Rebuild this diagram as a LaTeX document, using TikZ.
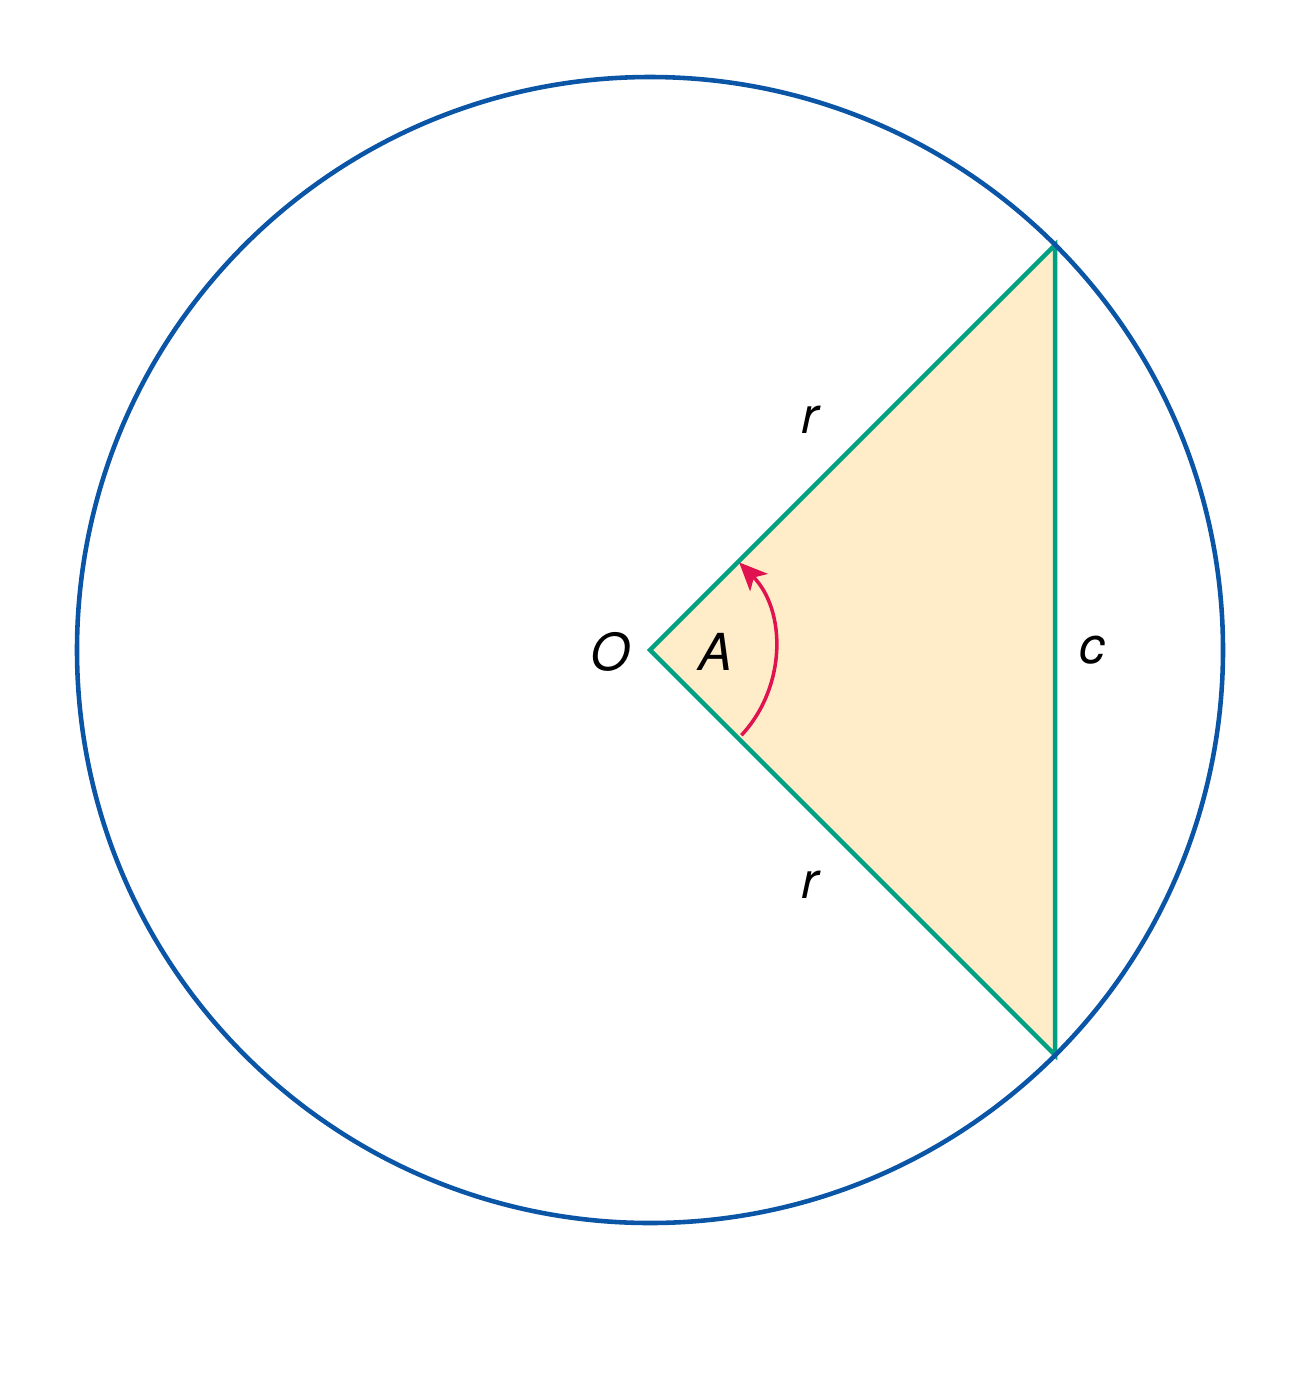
\documentclass[tikz,border=0pt]{standalone}
\usepackage{fontspec}
\setmainfont{TeX Gyre Heros}
\usetikzlibrary{arrows.meta}
\definecolor{circblue}{HTML}{0A55A5}
\definecolor{trigreen}{HTML}{00A082}
\definecolor{trifill}{HTML}{FEEDC8}
\definecolor{arcred}{HTML}{E0124F}
\begin{document}
\begin{tikzpicture}[x=0.01cm,y=-0.01cm,
  lbl/.style={font=\fontsize{14.5}{17}\selectfont\itshape, inner sep=0pt},
  side/.style={draw=trigreen, line width=1.3pt, line join=miter}]
\useasboundingbox (0,0) rectangle (1300,1390);
\coordinate (O) at (650,650);
\coordinate (P) at (1055.2,244.8);
\coordinate (Q) at (1055.2,1055.2);
% triangle
\fill[trifill] (O) -- (P) -- (Q) -- cycle;
\draw[side] (O) -- (P) -- (Q) -- cycle;
% circle
\draw[circblue, line width=1.3pt] (O) circle[radius=573];
% angle arc
\draw[arcred, line width=1pt, -{Stealth[length=8pt,width=7pt,inset=2pt]}]
  (O) ++(43:125) arc[start angle=43, end angle=-44.5, radius=125];
% labels
\node[lbl] (lO) at (610,652) {O};
\node[lbl] (lA) at (716,652) {A};
\node[lbl] (lr1) at (810,420) {r};
\node[lbl] (lr2) at (810,885) {r};
\node[lbl] (lc) at (1092,650) {c};
\end{tikzpicture}
\end{document}
